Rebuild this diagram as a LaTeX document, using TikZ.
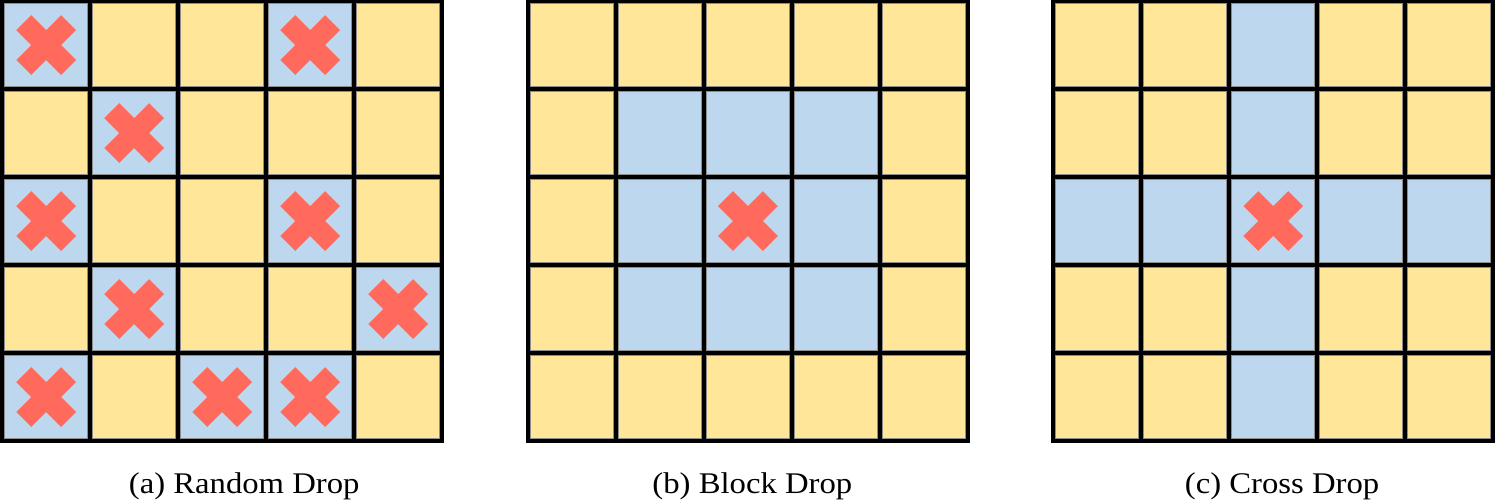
\documentclass[tikz,border=0pt]{standalone}
\usepackage{fontspec}
\setmainfont{Liberation Serif}
\usepackage{xcolor}
\usepackage{tikz}
\usetikzlibrary{positioning}

\definecolor{cellblue}{HTML}{BDD7EE}
\definecolor{cellyellow}{HTML}{FFE699}
\definecolor{dropred}{HTML}{FF6A5C}

% one 5x5 panel: 0 = kept, 1 = dropped, 2 = dropped + mark
\newcommand{\dropgrid}[2]{%
	\foreach \pat [count=\r] in {#2} {
		\foreach \v [count=\c] in \pat {
			\ifnum\v=0 \def\cellcol{cellyellow}\else \def\cellcol{cellblue}\fi
			\node[cell, fill=\cellcol] (#1\r\c) at (\c-0.5, 5.5-\r) {};
			\ifnum\v=2 \pic at (#1\r\c) {dropx};\fi
		}
	}
	\foreach \k in {0,...,5} {
		\draw[gridline] (\k,0) -- (\k,5);
		\draw[gridline] (0,\k) -- (5,\k);
	}
}

\begin{document}
\begin{tikzpicture}[
	x=44pt, y=44pt,
	cell/.style={
		draw=black!45, line width=0.4pt,
		minimum size=41.6pt, inner sep=0pt,
		anchor=center
	},
	gridline/.style={
		black, line width=2pt, line cap=rect
	},
	caption/.style={
		font=\fontsize{15}{18}\selectfont,
		anchor=base
	},
	dropx/.pic={
		\fill[dropred, rotate=45] (-0.36,-0.12) rectangle (0.36,0.12);
		\fill[dropred, rotate=-45] (-0.36,-0.12) rectangle (0.36,0.12);
	}
	]
	\useasboundingbox (0,0) rectangle (16.99,5.727);
	
	% === (a) Random Drop ===
	\begin{scope}[shift={(0.025,0.715)}]
		\dropgrid{a}{{2,0,0,2,0},{0,2,0,0,0},{2,0,0,2,0},{0,2,0,0,2},{2,0,2,2,0}}
		\node[caption] (capa) at (2.75,-0.6) {\scalebox{1.09}[1]{(a) Random Drop}};
	\end{scope}
	
	% === (b) Block Drop ===
	\begin{scope}[shift={(6.0,0.715)}]
		\dropgrid{b}{{0,0,0,0,0},{0,1,1,1,0},{0,1,2,1,0},{0,1,1,1,0},{0,0,0,0,0}}
		\node[caption] (capb) at (2.55,-0.6) {\scalebox{1.09}[1]{(b) Block Drop}};
	\end{scope}
	
	% === (c) Cross Drop ===
	\begin{scope}[shift={(11.97,0.715)}]
		\dropgrid{c}{{0,0,1,0,0},{0,0,1,0,0},{1,1,2,1,1},{0,0,1,0,0},{0,0,1,0,0}}
		\node[caption] (capc) at (2.6,-0.6) {\scalebox{1.09}[1]{(c) Cross Drop}};
	\end{scope}
	
\end{tikzpicture}
\end{document}
